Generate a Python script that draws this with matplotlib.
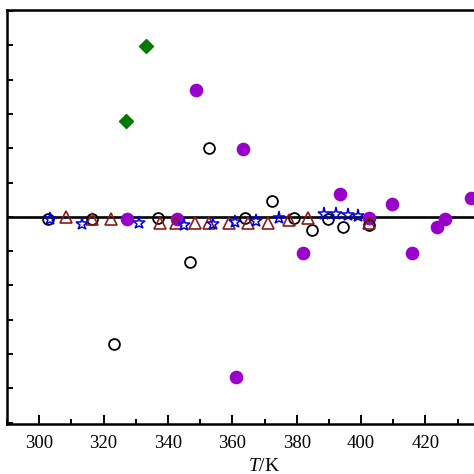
import matplotlib
matplotlib.use('Agg')
import matplotlib.pyplot as plt
from matplotlib.ticker import MultipleLocator, FixedLocator

plt.rcParams['font.family'] = ['Liberation Serif', 'DejaVu Serif']
plt.rcParams['mathtext.fontset'] = 'custom'
plt.rcParams['mathtext.it'] = 'Liberation Serif:italic'
plt.rcParams['mathtext.rm'] = 'Liberation Serif'

# === Data (deviation, arbitrary tick units) ===
circ_T = [302.8, 316.4, 323.1, 336.9, 347.0, 352.7, 363.9, 372.2, 379.1, 384.9, 389.8, 394.5, 402.5]
circ_d = [-0.05, -0.06, -3.71, -0.03, -1.31, 2.00, -0.04, 0.47, -0.04, -0.37, -0.07, -0.29, -0.23]

tri_T = [308.3, 316.4, 322.3, 337.6, 342.5, 348.5, 352.9, 358.9, 364.9, 371.1, 377.6, 383.6, 402.5]
tri_d = [0.00, -0.07, -0.07, -0.17, -0.19, -0.19, -0.19, -0.18, -0.19, -0.17, -0.10, -0.02, -0.19]

star_T = [303.3, 313.3, 330.9, 345.1, 353.9, 360.7, 367.5, 374.5, 388.5, 392.2, 395.8, 399.2]
star_d = [-0.07, -0.21, -0.18, -0.24, -0.21, -0.14, -0.12, -0.04, 0.08, 0.08, 0.06, 0.03]

dia_T = [327.0, 333.2]
dia_d = [2.80, 4.97]

purp_T = [327.3, 342.8, 348.8, 361.0, 363.2, 382.0, 393.5, 402.5, 409.5, 415.7, 423.5, 426.1, 434.2]
purp_d = [-0.06, -0.05, 3.70, -4.66, 1.97, -1.04, 0.66, -0.02, 0.37, -1.04, -0.31, -0.06, 0.56]

x_ticks = [300, 320, 340, 360, 380, 400, 420]

# === Plot ===
fig = plt.figure(figsize=(4.74, 4.74), dpi=100)
ax = fig.add_axes([7 / 474, 50 / 474, 515 / 474, 414 / 474])

ax.axhline(0, color='black', lw=1.9, zorder=1)

ax.plot(circ_T, circ_d, 'o', ms=7.8, mfc='none', mec='black', mew=1.3, zorder=3)
ax.plot(tri_T, tri_d, '^', ms=8.5, mfc='none', mec='#8b1a1a', mew=1.2, zorder=3)
ax.plot(star_T, star_d, '*', ms=9.5, mfc='none', mec='#0000dd', mew=1.1, zorder=4)
ax.plot(dia_T, dia_d, 'D', ms=7.5, color='#007a00', zorder=3)
ax.plot(purp_T, purp_d, 'o', ms=8.8, color='#9900cc', zorder=2)

ax.set_xlim(290, 450)
ax.set_ylim(-6.04, 6.03)
ax.xaxis.set_major_locator(FixedLocator(x_ticks))
ax.xaxis.set_minor_locator(MultipleLocator(10))
ax.yaxis.set_major_locator(MultipleLocator(1))

ax.tick_params(axis='x', which='major', direction='in', length=6.5, width=1.4, labelsize=13.5, pad=8)
ax.tick_params(axis='x', which='minor', direction='in', length=3.5, width=1.4)
ax.tick_params(axis='y', which='major', direction='in', length=4, width=1.4, labelleft=False)
ax.tick_params(top=False, right=False)

for s in ax.spines.values():
    s.set_linewidth(1.8)

ax.set_xlabel(r'$T$/K', fontsize=14, labelpad=4)

plt.savefig('out.png', dpi=100)
